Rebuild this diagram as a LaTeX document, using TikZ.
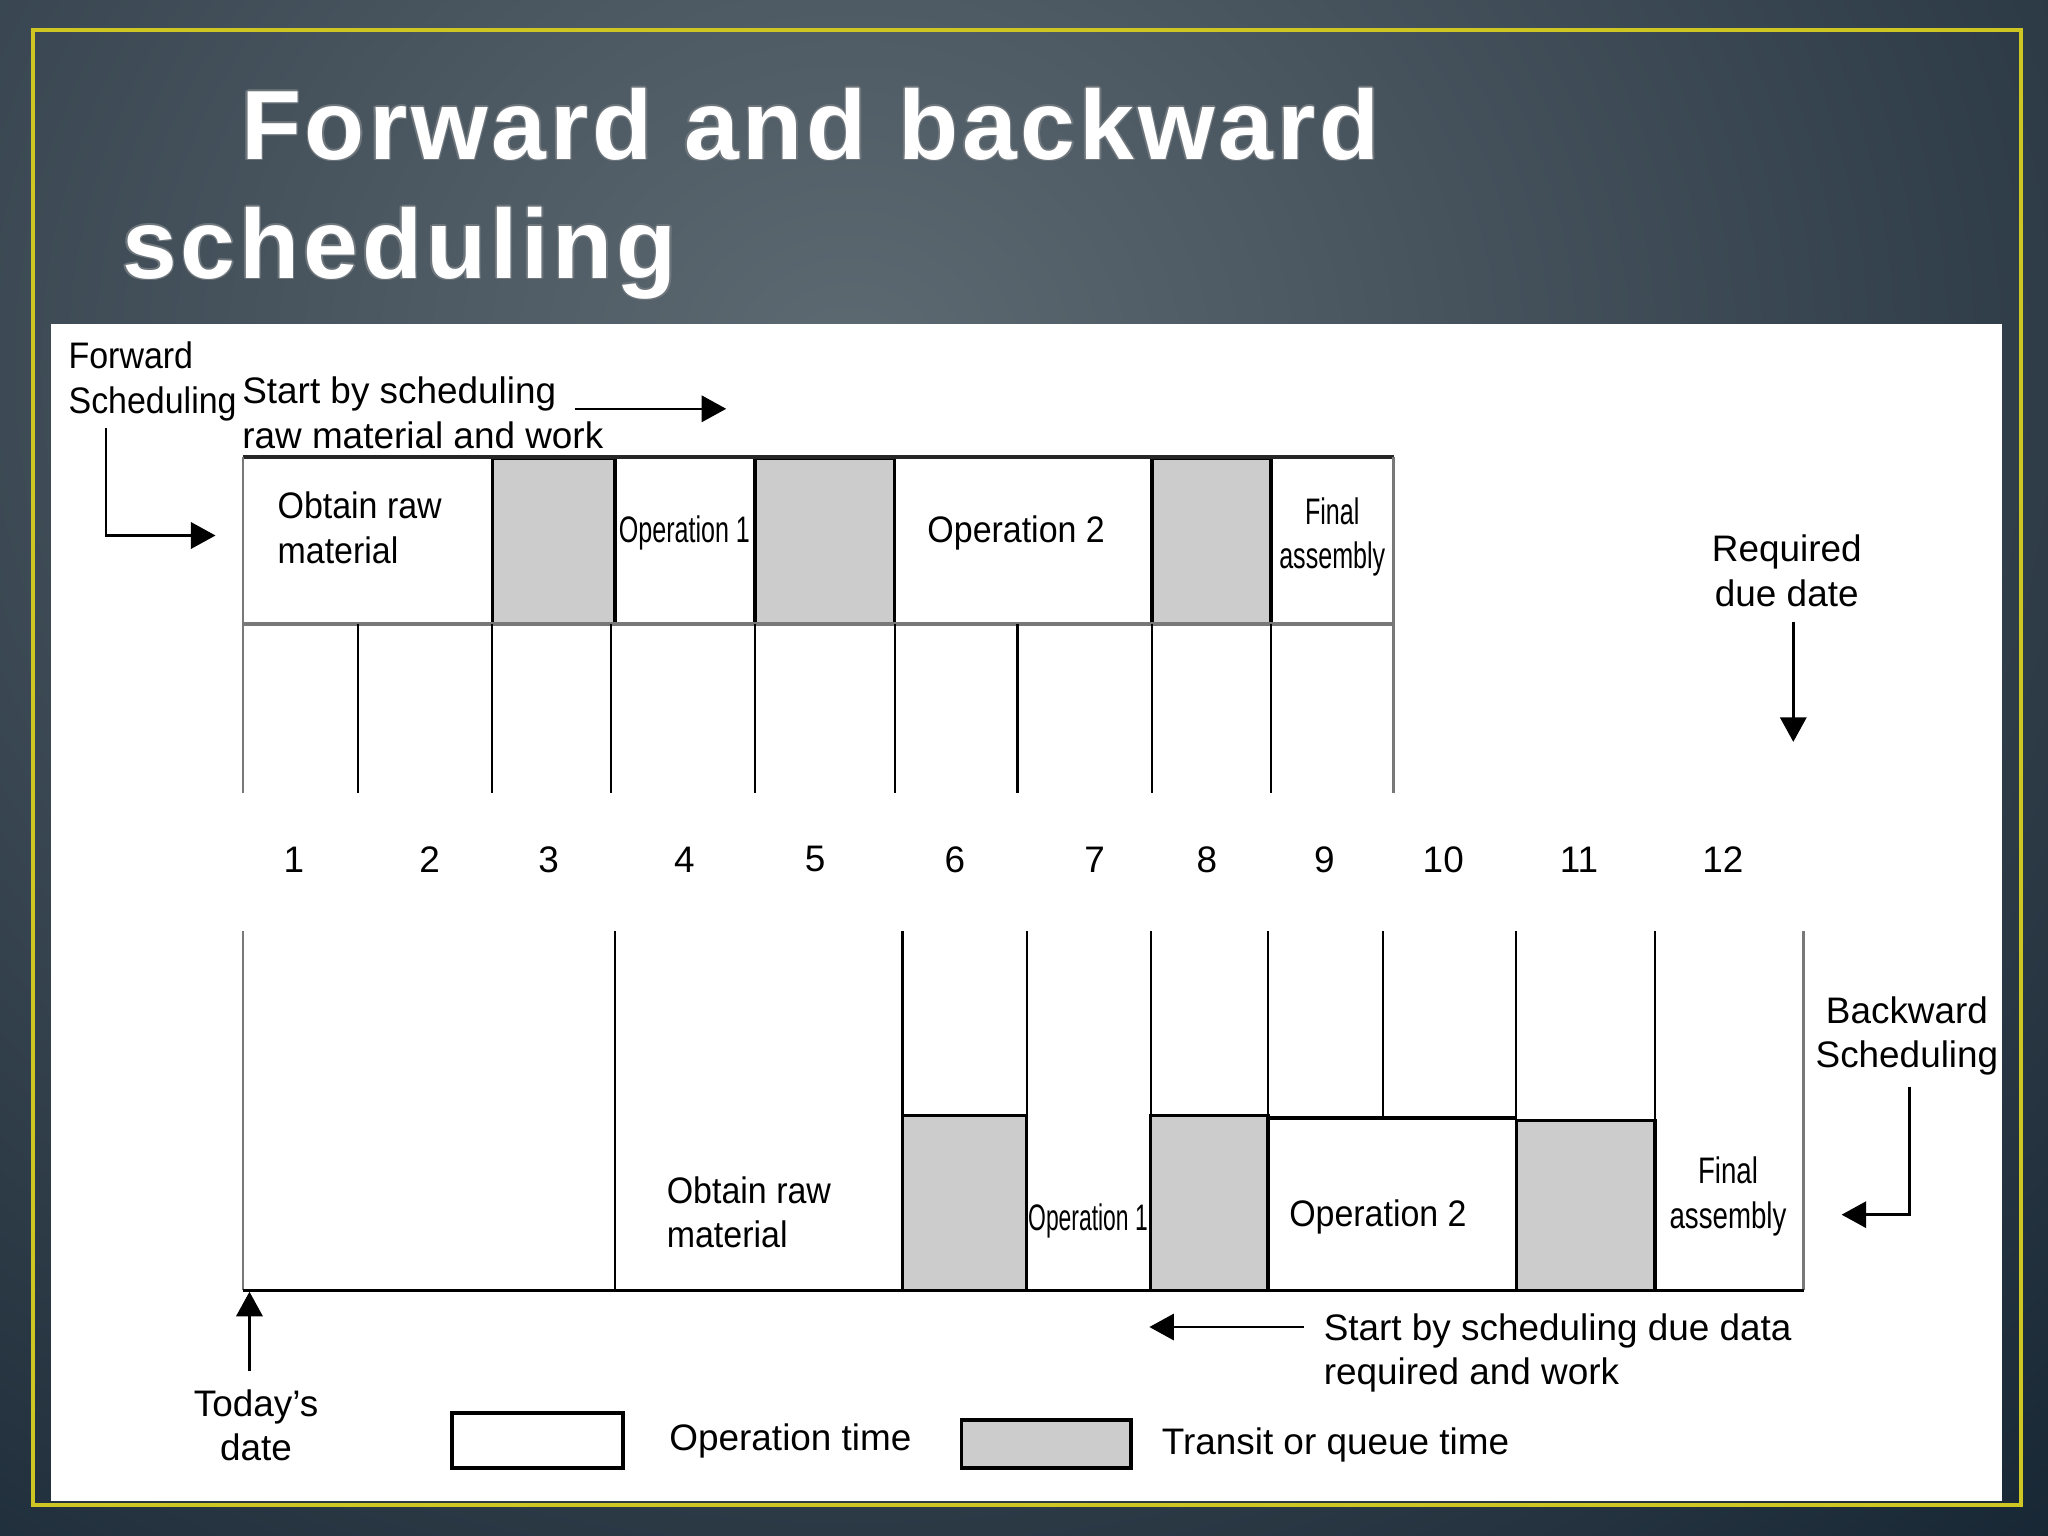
\documentclass[tikz,border=0pt]{standalone}
\usepackage{fontspec}
\setmainfont{Liberation Sans}
\newfontfamily\titlefont[LetterSpace=4]{Liberation Sans Bold}
\newfontfamily\semifont[FakeStretch=0.92]{Liberation Sans}
\newfontfamily\narrowfont[FakeStretch=0.68]{Liberation Sans}
\newfontfamily\narrowerfont[FakeStretch=0.62]{Liberation Sans}
\newfontfamily\finalfont[FakeStretch=0.75]{Liberation Sans}
\usetikzlibrary{arrows.meta}

\definecolor{slatedark}{RGB}{20,35,49}
\definecolor{slatelight}{RGB}{94,106,114}
\definecolor{framey}{RGB}{206,198,34}
\definecolor{queuegray}{RGB}{204,204,204}
\definecolor{edgegray}{RGB}{120,120,120}
\definecolor{titleedge}{RGB}{110,118,124}
\pgfdeclareradialshading{slateglow}{\pgfpoint{0bp}{0bp}}{color(0bp)=(slatelight); color(36bp)=(slatedark); color(50bp)=(slatedark)}

\begin{document}
\begin{tikzpicture}[x=0.013061cm, y=-0.013061cm,
	lbl/.style={font=\fontsize{10.5}{12.6}\selectfont, inner sep=0pt, align=center},
	semi/.style={font=\fontsize{10.5}{12.6}\semifont, inner sep=0pt, align=center},
	nar/.style={font=\fontsize{10.5}{12.6}\narrowfont, inner sep=0pt, align=center},
	ttl/.style={anchor=base west, inner sep=0pt, font=\fontsize{28}{34}\titlefont},
	qbox/.style={fill=queuegray, draw=black, line width=1pt},
	arr/.style={-{Triangle[length=7pt, width=7.5pt]}, line width=0.7pt}]

	\useasboundingbox (0,0) rectangle (1568,1176);

	% slide background
	\begin{scope}
		\clip (0,0) rectangle (1568,1176);
		\shade[shading=slateglow] (-350,-620) rectangle (1650,1180);
	\end{scope}
	\draw[framey, line width=1.1pt] (25,23) rectangle (1547,1152);
	\fill[white] (39,248) rectangle (1533,1149);

	% title, grey rim then white letters
	\foreach \dx/\dy [count=\i] in {1.2/0,-1.2/0,0/1.2,0/-1.2,0.9/0.9,-0.9/0.9,0.9/-0.9,-0.9/-0.9} {
		\node[ttl, text=titleedge] (rimA\i) at (184+\dx,122+\dy) {Forward and backward};
		\node[ttl, text=titleedge] (rimB\i) at (93+\dx,213+\dy) {scheduling};
	}
	\node[ttl, text=white] (titleA) at (184,122) {Forward and backward};
	\node[ttl, text=white] (titleB) at (93,213) {scheduling};

	% forward schedule
	\filldraw[qbox] (377,351) rectangle (471,478);
	\filldraw[qbox] (578,351) rectangle (685,478);
	\filldraw[qbox] (882,351) rectangle (973,478);
	\draw[black!85, line width=1.1pt] (186,350) -- (1067,350);
	\draw[edgegray, line width=1.1pt] (186,478) -- (1067,478);
	\draw[edgegray, line width=0.8pt] (186,350) -- (186,607);
	\draw[edgegray, line width=0.8pt] (1067,350) -- (1067,607);
	\foreach \x in {274,377,468,578,685,779,882,973}
		\draw[line width=0.6pt] (\x,478) -- (\x,607);

	\node[semi, anchor=west, align=left] (fwdraw) at (212,404) {Obtain raw\\material};
	\node[nar] (fwdop1) at (524,408) {Operation 1};
	\node[semi] (fwdop2) at (778,408) {Operation 2};
	\node[nar] (fwdfinal) at (1020,411) {Final\\assembly};

	% day numbers
	\foreach \n/\x in {1/225,2/329,3/420,4/524,5/624,6/731,7/838,8/924,9/1014,10/1105,11/1209,12/1319}
		\node[lbl] (day\n) at (\x,658) {\n};

	% backward schedule
	\filldraw[qbox] (691,854) rectangle (786,988);
	\filldraw[qbox] (881,854) rectangle (971,988);
	\filldraw[qbox] (1161,858) rectangle (1267,988);
	\draw[line width=1pt] (971,856) -- (1161,856);
	\foreach \x in {471,691,786,881,971,1161,1267}
		\draw[line width=0.6pt] (\x,713) -- (\x,988);
	\draw[line width=0.6pt] (1059,713) -- (1059,856);
	\draw[edgegray, line width=0.8pt] (186,713) -- (186,988);
	\draw[edgegray, line width=0.8pt] (1381,713) -- (1381,988);
	\draw[line width=1.1pt] (186,988) -- (1381,988);

	\node[semi, anchor=west, align=left] (bwdraw) at (510,928) {Obtain raw\\material};
	\node[inner sep=0pt, font=\fontsize{10.5}{12.6}\narrowerfont] (bwdop1) at (833,935) {Operation 1};
	\node[semi] (bwdop2) at (1055,932) {Operation 2};
	\node[inner sep=0pt, align=center, font=\fontsize{10.5}{12.6}\finalfont] (bwdfinal) at (1323,916) {Final\\assembly};

	% annotations
	\node[semi, anchor=west, align=left] (fwd) at (52,292) {Forward\\Scheduling};
	\coordinate (fwdtail) at (81,328);
	\coordinate (fwdtip) at (165,410);
	\draw[arr] (fwdtail) |- (fwdtip);

	\node[lbl, anchor=west, align=left] (rawnote) at (185,316) {Start by scheduling\\raw material and work};
	\coordinate (rawtail) at (440,313);
	\coordinate (rawtip) at (556,313);
	\draw[arr] (rawtail) -- (rawtip);

	\node[lbl] (req) at (1368,437) {Required\\due date};
	\coordinate (reqtail) at (1373,476);
	\coordinate (reqtip) at (1373,568);
	\draw[arr] (reqtail) -- (reqtip);

	\node[lbl] (bwd) at (1460,793) {Backward\\Scheduling};
	\coordinate (bwdtail) at (1462,832);
	\coordinate (bwdtip) at (1410,930);
	\draw[arr] (bwdtail) |- (bwdtip);

	\node[lbl] (today) at (196,1091) {Today's\\date};
	\coordinate (todaytail) at (191,1050);
	\coordinate (todaytip) at (191,989);
	\draw[arr] (todaytail) -- (todaytip);

	\node[lbl, anchor=west, align=left] (duenote) at (1013,1036) {Start by scheduling due data\\required and work};
	\coordinate (duetail) at (998,1016);
	\coordinate (duetip) at (880,1016);
	\draw[arr] (duetail) -- (duetip);

	% legend
	\draw[line width=1pt] (346,1082) rectangle (477,1124);
	\node[lbl, anchor=west] (optime) at (512,1103) {Operation time};
	\filldraw[qbox] (736,1087) rectangle (866,1124);
	\node[lbl, anchor=west] (qtime) at (889,1106) {Transit or queue time};

\end{tikzpicture}
\end{document}
